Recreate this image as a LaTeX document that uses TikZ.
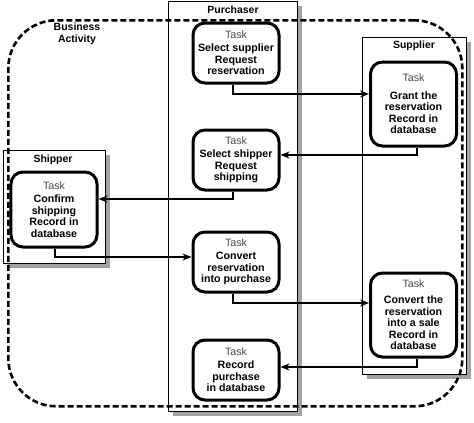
\documentclass[tikz,border=0pt]{standalone}
\usepackage{fontspec}
\setmainfont{Liberation Sans}
\usetikzlibrary{arrows.meta,shadows}
\definecolor{taskgray}{HTML}{4A4A4A}
\begin{document}
\begin{tikzpicture}[x=1bp,y=-1bp,
  pool/.style={draw=black, line width=1.3bp, fill=white, anchor=north west, inner sep=0pt,
    drop shadow={shadow xshift=4.5bp, shadow yshift=-4.5bp, fill=black!45, opacity=0.8}},
  poollabel/.style={font=\bfseries\fontsize{10.5}{12}\selectfont, inner sep=0pt},
  group/.style={draw=black, line width=2.6bp, dash pattern=on 6bp off 3bp, rounded corners=48bp, anchor=north west, inner sep=0pt},
  task/.style={draw=black, line width=3bp, fill=white, rounded corners=12bp, align=center,
    minimum width=86bp, inner sep=0pt, font=\bfseries\fontsize{10.7}{11.6}\selectfont},
  arr/.style={line width=1.3bp, -{Stealth[length=9bp,width=7bp]}}
]
\useasboundingbox (0,0) rectangle (474,422);
% pools
\node[pool, minimum width=129bp, minimum height=410bp] (purchaser) at (168,1) {};
\node[pool, minimum width=104bp, minimum height=337bp] (supplier) at (362,37) {};
\node[pool, minimum width=102bp, minimum height=113bp] (shipper) at (3,150) {};
\node[poollabel] (lp) at (233,10) {Purchaser};
\node[poollabel] (ls) at (414,46) {Supplier};
\node[poollabel] (lsh) at (53,160) {Shipper};
% business activity
\node[group, minimum width=454bp, minimum height=386bp] (ba) at (7,19) {};
\node[poollabel, align=center] (bal) at (77,34) {Business\\Activity};
% tasks
\newcommand{\tasklbl}{{\color{taskgray}\mdseries Task}}
\node[task, minimum height=60bp] (t1) at (236,53) {\tasklbl\\[1bp]Select supplier\\Request\\reservation};
\node[task, minimum height=60bp] (t2) at (236,160) {\tasklbl\\[1bp]Select shipper\\Request\\shipping};
\node[task, minimum height=60bp] (t3) at (236,262) {\tasklbl\\[1bp]Convert\\reservation\\into purchase};
\node[task, minimum height=60bp] (t4) at (236,370) {\tasklbl\\[1bp]Record\\purchase\\in database};
\node[task, minimum height=84bp] (t5) at (413.5,104) {\tasklbl\\[6bp]Grant the\\reservation\\Record in\\database};
\node[task, minimum height=84bp] (t6) at (413.5,315) {\tasklbl\\[4bp]Convert the\\reservation\\into a sale\\Record in\\database};
\node[task, minimum height=75bp] (t7) at (54,209.5) {\tasklbl\\[1.5bp]Confirm\\shipping\\Record in\\database};
% connectors
\draw[arr] ([xshift=-3bp]t1.south) |- ([yshift=10bp]t5.west);
\draw[arr] ([xshift=3.5bp]t5.south) |- ([yshift=5bp]t2.east);
\draw[arr] ([xshift=-3bp]t2.south) |- ([yshift=10.5bp]t7.east);
\draw[arr] ([xshift=1bp]t7.south) |- ([yshift=5bp]t3.west);
\draw[arr] ([xshift=-3bp]t3.south) |- ([yshift=12bp]t6.west);
\draw[arr] ([xshift=3.5bp]t6.south) |- ([yshift=3bp]t4.east);
\end{tikzpicture}
\end{document}
